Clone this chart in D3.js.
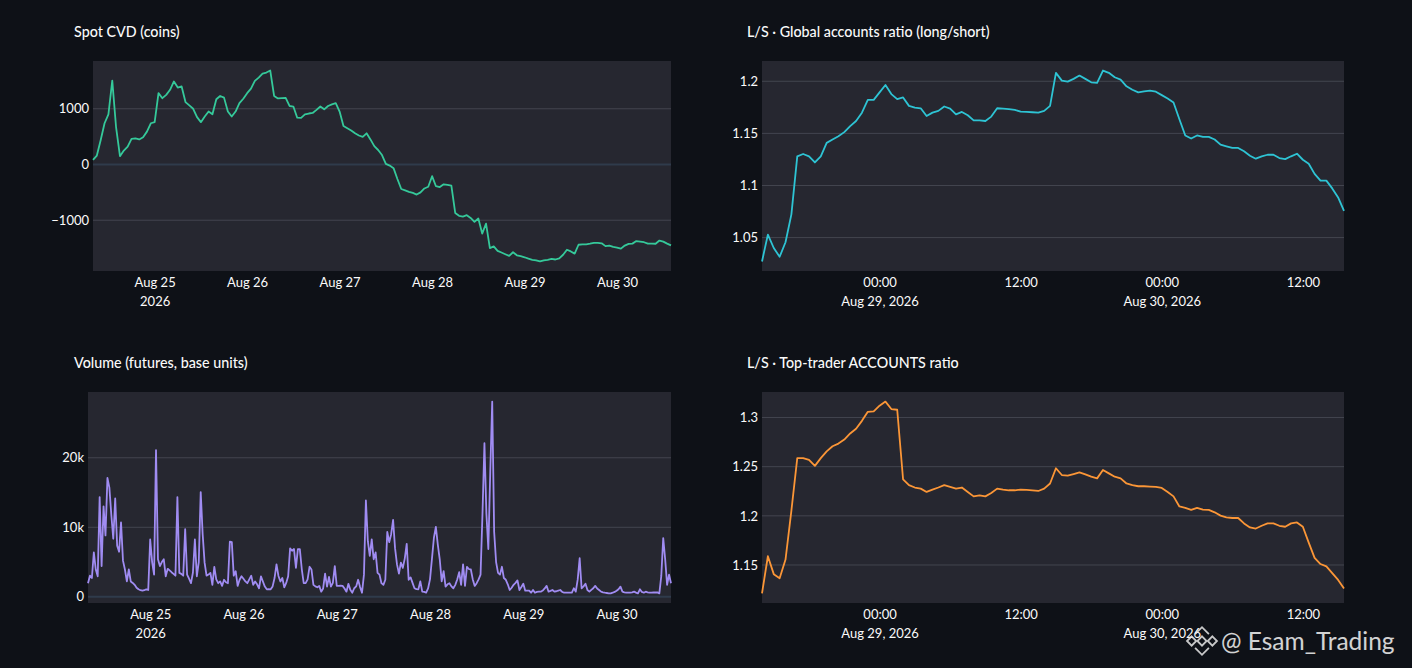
<!DOCTYPE html>
<html>
<head>
<meta charset="utf-8">
<script src="https://cdn.jsdelivr.net/npm/d3@7"></script>
<style>
  html, body { margin: 0; padding: 0; background: #0e1117; }
  svg { display: block; }
</style>
</head>
<body>
<div id="chart"></div>
<script>
"use strict";

// ---- data ----

// spot CVD, hourly, starting Aug 24 08:00 UTC
var cvdStart = "2026-08-24T08:00";
var cvdStepMin = 60;
var cvdValues = [84,160,440,740,900,1505,660,150,250,320,
  460,470,450,490,590,740,760,1280,1190,1250,
  1340,1490,1380,1400,1120,1060,1000,850,760,860,
  950,900,1170,1230,1200,950,860,950,1100,1180,
  1280,1360,1500,1560,1630,1650,1686,1230,1185,1190,
  1195,1050,1040,840,835,900,915,925,980,1040,
  990,1050,1078,1100,950,690,650,610,560,520,
  495,560,450,330,260,170,10,-20,-66,-260,
  -440,-465,-490,-510,-540,-500,-430,-400,-210,-390,
  -405,-355,-365,-380,-870,-920,-935,-910,-960,-1030,
  -970,-1240,-1060,-1500,-1470,-1550,-1580,-1610,-1640,-1575,
  -1630,-1645,-1665,-1690,-1710,-1722,-1740,-1722,-1710,-1695,
  -1705,-1685,-1620,-1530,-1560,-1600,-1440,-1435,-1433,-1421,
  -1405,-1405,-1415,-1465,-1455,-1480,-1490,-1510,-1455,-1425,
  -1420,-1375,-1385,-1395,-1420,-1420,-1422,-1365,-1385,-1420,
  -1451];

// futures volume, 30 min, same window
var volStart = "2026-08-24T08:00";
var volStepMin = 30;
var volValues = [1960,3040,2700,6380,3930,2950,14340,4420,13010,8840,
  17090,15700,11780,8350,14140,7360,6480,10700,5200,3930,
  2210,3930,2210,2000,1720,1300,1080,950,880,950,
  1080,980,8250,5000,3190,21110,5400,4420,5000,5400,
  2950,4030,3800,3540,3300,3040,14340,3440,3300,3040,
  9720,3190,2600,1960,3500,8250,2950,5000,15070,9000,
  4910,3040,3200,3440,1720,4320,2500,1960,2210,1570,
  2450,2100,1960,7950,7860,3040,3680,1570,2450,2950,
  2600,2210,1960,2500,3040,1720,2210,1800,1230,2950,
  2200,1470,1080,1100,1080,1500,2700,4660,3000,2210,
  2700,1370,2000,2950,6970,6630,6870,4170,6870,6870,
  4000,1960,1960,2500,4320,3930,1720,1500,1370,1570,
  740,1200,3340,1470,2850,1470,2000,4420,1570,1570,
  1600,1570,1200,740,1870,1000,590,1230,1500,2450,
  1400,590,3190,13850,8000,5890,8250,5400,6380,3440,
  3190,1960,1720,2450,9330,7860,9000,11050,7000,4660,
  3340,4910,4170,5500,7610,2450,2800,2000,1230,1100,
  1080,2210,740,700,600,1200,2550,5500,8500,10070,
  7500,5400,2210,3680,1470,1800,1960,1500,1230,1720,
  2500,3540,1720,4660,1570,4320,4000,3930,2500,1570,
  1960,2500,3190,12000,22100,12000,6870,18000,28080,9330,
  5000,3440,3190,4320,2700,2450,1800,980,1300,1720,
  2000,2360,980,1400,1870,880,900,880,590,980,
  590,700,740,740,900,1200,1570,740,850,980,
  740,800,900,980,700,590,600,590,600,590,
  1230,740,2500,5550,1230,1500,1870,980,740,1000,
  1230,1570,1200,980,740,650,590,550,500,490,
  590,700,880,1100,1470,740,650,590,600,590,
  650,740,600,490,1080,700,590,740,650,590,
  600,640,620,640,490,3000,8450,5400,1720,3190,
  1960];

// long/short ratios, 30 min, from Aug 28 14:00 UTC
var lsStart = "2026-08-28T14:00";
var lsStepMin = 30;
var lsGlobal = [1.0271,1.0529,1.040,1.0316,1.0455,1.0723,1.1279,1.1302,1.128,1.1221,
  1.128,1.1409,1.1441,1.1473,1.1512,1.157,1.1619,1.1699,1.1822,1.1822,
  1.1893,1.1964,1.1877,1.1829,1.1845,1.1764,1.1748,1.1741,1.1667,1.1699,
  1.1716,1.1758,1.1738,1.1683,1.1706,1.1674,1.1625,1.1625,1.1619,1.1661,
  1.1741,1.1738,1.1732,1.1725,1.1709,1.1706,1.1703,1.1699,1.1716,1.1764,
  1.2081,1.2006,1.1997,1.2023,1.2055,1.2023,1.199,1.1984,1.2103,1.2081,
  1.2039,1.2016,1.1952,1.1919,1.1893,1.1903,1.191,1.19,1.1867,1.1835,
  1.1796,1.1635,1.148,1.1451,1.148,1.1467,1.1467,1.1441,1.1392,1.1376,
  1.136,1.136,1.1328,1.1286,1.1257,1.128,1.1295,1.1295,1.1263,1.1253,
  1.128,1.1305,1.1247,1.1208,1.1111,1.1047,1.1047,1.0972,1.0885,1.0756];
var lsTop = [1.1211,1.1589,1.1407,1.1365,1.1555,1.2054,1.2587,1.2587,1.257,1.2508,
  1.2587,1.2656,1.2708,1.2735,1.2776,1.2838,1.2886,1.2966,1.3058,1.3062,
  1.312,1.3162,1.3086,1.3079,1.237,1.2312,1.2288,1.2277,1.2243,1.2267,
  1.2288,1.2312,1.2295,1.2277,1.2288,1.2243,1.2198,1.2209,1.2198,1.2233,
  1.2277,1.2267,1.226,1.226,1.2267,1.2264,1.226,1.2253,1.2277,1.2329,
  1.2484,1.2415,1.2408,1.2425,1.2443,1.2422,1.2398,1.2381,1.2467,1.2432,
  1.2398,1.2381,1.2329,1.2312,1.2301,1.2301,1.2298,1.2295,1.2284,1.2243,
  1.2198,1.2095,1.2081,1.2061,1.2081,1.2064,1.2061,1.2036,1.2002,1.1985,
  1.1978,1.1978,1.1923,1.1882,1.1871,1.1899,1.1923,1.1923,1.1899,1.1889,
  1.1923,1.1933,1.1889,1.1727,1.1572,1.151,1.1486,1.1417,1.1348,1.1262];

// tick values
var dayTicks = ["2026-08-25","2026-08-26","2026-08-27","2026-08-28","2026-08-29","2026-08-30"];
var halfDayTicks = ["2026-08-29T00:00","2026-08-29T12:00","2026-08-30T00:00","2026-08-30T12:00"];
var cvdTicks = [-1000, 0, 1000];
var volTicks = [0, 10000, 20000];
var lsGlobalTicks = [1.05, 1.1, 1.15, 1.2];
var lsTopTicks = [1.15, 1.2, 1.25, 1.3];

// ---- drawing ----
var W = 1412, H = 668;
var FONT = "Lato, 'Noto Sans', sans-serif";
var parseDay = d3.utcParse("%Y-%m-%d");
var parseTime = d3.utcParse("%Y-%m-%dT%H:%M");

var svg = d3.select("#chart").append("svg")
  .attr("width", W)
  .attr("height", H)
  .style("background", "#0e1117");

function toSeries(start, stepMin, values) {
  var t0 = parseTime(start);
  return values.map(function (v, i) {
    return { t: d3.utcMinute.offset(t0, i * stepMin), v: v };
  });
}

function drawPanel(p) {
  var series = toSeries(p.start, p.step, p.values);
  var w = p.x1 - p.x0, h = p.y1 - p.y0;

  // plotly-like autorange: data extent plus 5%
  var ext = d3.extent(series, d => d.v);
  var pad = (ext[1] - ext[0]) * 0.05;

  var x = d3.scaleUtc().domain(d3.extent(series, d => d.t)).range([0, w]);
  var y = d3.scaleLinear().domain([ext[0] - pad, ext[1] + pad]).range([h, 0]);

  svg.append("text")
    .attr("x", p.titleX)
    .attr("y", p.titleY)
    .attr("fill", "#fafafa")
    .style("font", "14.3px " + FONT)
    .style("font-weight", 500)
    .text(p.title);

  var g = svg.append("g")
    .attr("transform", "translate(" + p.x0 + "," + p.y0 + ")");

  g.append("rect")
    .attr("width", w)
    .attr("height", h)
    .attr("fill", "#262730");

  //grid lines, the zero line gets the darker blue tone
  g.append("g").selectAll("line")
    .data(p.yTicks)
    .enter()
    .append("line")
    .attr("x1", 0).attr("x2", w)
    .attr("y1", d => y(d)).attr("y2", d => y(d))
    .attr("stroke", d => d === 0 ? "#2f3b4b" : "#43454f")
    .attr("stroke-width", d => d === 0 ? 2 : 1);

  //y axis labels
  var yAxis = g.append("g")
    .call(d3.axisLeft(y).tickValues(p.yTicks).tickFormat(p.yFormat).tickSize(0).tickPadding(4));
  yAxis.select(".domain").remove();
  yAxis.selectAll("text")
    .attr("fill", "#fafafa")
    .style("font", "13px " + FONT);

  //x axis labels (two lines like plotly)
  var xAxis = g.append("g")
    .attr("transform", "translate(0," + h + ")")
    .call(d3.axisBottom(x).tickValues(p.xTicks).tickFormat(p.xFormat).tickSize(0).tickPadding(7));
  xAxis.select(".domain").remove();
  xAxis.selectAll("text")
    .attr("fill", "#fafafa")
    .style("font", "13px " + FONT);
  xAxis.selectAll(".tick")
    .filter((d, i) => p.subFormat(d, i) !== "")
    .append("text")
    .attr("y", 26)
    .attr("dy", "0.71em")
    .attr("fill", "#fafafa")
    .style("font", "13px " + FONT)
    .style("text-anchor", "middle")
    .text((d, i) => p.subFormat(d, i));

  var line = d3.line()
    .x(d => x(d.t))
    .y(d => y(d.v));

  g.append("path")
    .attr("d", line(series))
    .attr("fill", "none")
    .attr("stroke", p.color)
    .attr("stroke-width", 1.8)
    .attr("stroke-linejoin", "round");
}

var fmtDay = d3.utcFormat("%b %d");
var fmtHour = d3.utcFormat("%H:%M");
var fmtDate = d3.utcFormat("%b %d, %Y");
var dayTickDates = dayTicks.map(parseDay);
var halfDayTickDates = halfDayTicks.map(parseTime);

drawPanel({
  title: "Spot CVD (coins)", titleX: 74, titleY: 37,
  x0: 93, x1: 671, y0: 61, y1: 271,
  start: cvdStart, step: cvdStepMin, values: cvdValues,
  color: "#35c99a",
  yTicks: cvdTicks, yFormat: d3.format("d"),
  xTicks: dayTickDates, xFormat: fmtDay,
  subFormat: (d, i) => i === 0 ? "2026" : ""
});

drawPanel({
  title: "L/S \u00b7 Global accounts ratio (long/short)", titleX: 747, titleY: 37,
  x0: 762, x1: 1344, y0: 61, y1: 271,
  start: lsStart, step: lsStepMin, values: lsGlobal,
  color: "#2ec4d4",
  yTicks: lsGlobalTicks, yFormat: d3.format("~f"),
  xTicks: halfDayTickDates, xFormat: fmtHour,
  subFormat: d => d.getUTCHours() === 0 ? fmtDate(d) : ""
});

drawPanel({
  title: "Volume (futures, base units)", titleX: 74, titleY: 368,
  x0: 88, x1: 671, y0: 392, y1: 603,
  start: volStart, step: volStepMin, values: volValues,
  color: "#a08cf2",
  yTicks: volTicks, yFormat: d3.format("~s"),
  xTicks: dayTickDates, xFormat: fmtDay,
  subFormat: (d, i) => i === 0 ? "2026" : ""
});

drawPanel({
  title: "L/S \u00b7 Top-trader ACCOUNTS ratio", titleX: 747, titleY: 368,
  x0: 762, x1: 1344, y0: 392, y1: 603,
  start: lsStart, step: lsStepMin, values: lsTop,
  color: "#fb9637",
  yTicks: lsTopTicks, yFormat: d3.format("~f"),
  xTicks: halfDayTickDates, xFormat: fmtHour,
  subFormat: d => d.getUTCHours() === 0 ? fmtDate(d) : ""
});

// watermark (logo outline + handle)
var wm = svg.append("g")
  .attr("transform", "translate(1202,641) scale(1.15)")
  .attr("fill", "none")
  .attr("stroke", "#e8e8e8")
  .attr("stroke-width", 1.6)
  .attr("opacity", 0.85);
wm.append("path").attr("d", "M0,-4 L4,0 L0,4 L-4,0 Z");
wm.append("path").attr("d", "M-9,-4 L-5,0 L-9,4 L-13,0 Z");
wm.append("path").attr("d", "M9,-4 L13,0 L9,4 L5,0 Z");
wm.append("path").attr("d", "M-6,-6 L0,-12 L6,-6");
wm.append("path").attr("d", "M-6,6 L0,12 L6,6");

svg.append("text")
  .attr("x", 1221)
  .attr("y", 650)
  .attr("fill", "#e8e8e8")
  .attr("opacity", 0.9)
  .style("font", "24.5px " + FONT)
  .text("@ Esam_Trading");
</script>
</body>
</html>
